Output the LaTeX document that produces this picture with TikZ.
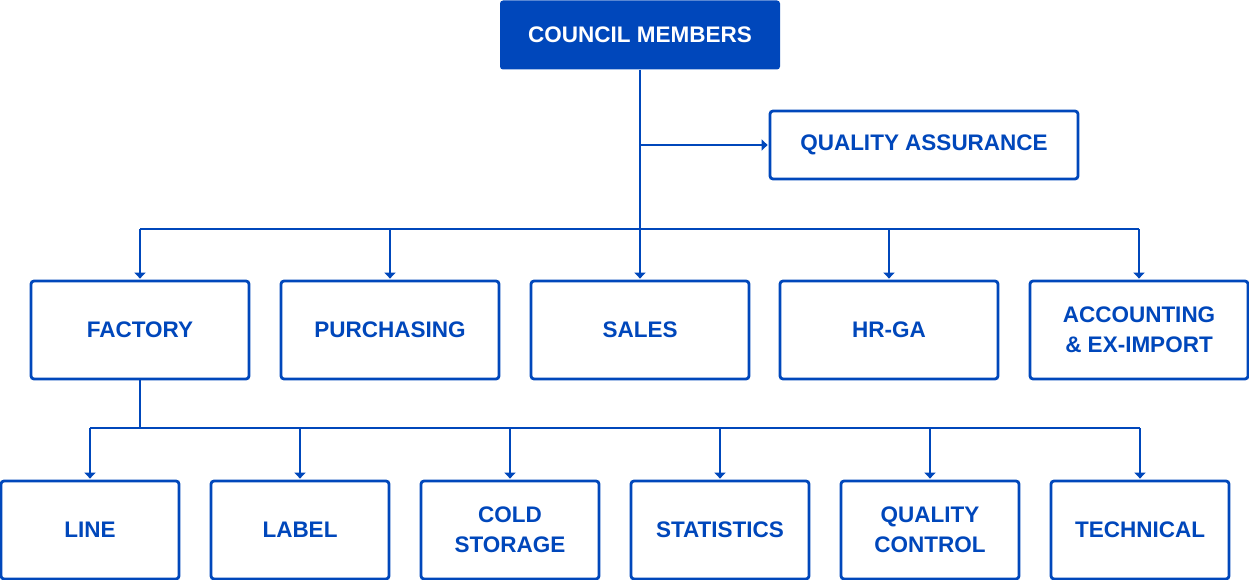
\documentclass[tikz,border=0pt]{standalone}
\usepackage{fontspec}
\setmainfont{Liberation Sans}
\usetikzlibrary{arrows.meta}
\definecolor{cblue}{HTML}{0047BB}
\begin{document}
\begin{tikzpicture}[x=1pt,y=-1pt,
  box/.style={draw=cblue,line width=2.8pt,rounded corners=3pt,fill=white,text=cblue,font=\bfseries\fontsize{22.5}{30}\selectfont,align=center,inner sep=0pt},
  topbox/.style={fill=cblue,rounded corners=3pt,text=white,font=\bfseries\fontsize{22.5}{30}\selectfont,inner sep=0pt},
  conn/.style={draw=cblue,line width=2.8pt},
  arr/.style={conn,-{Triangle[width=11pt,length=6pt]},shorten >=1pt}]
\useasboundingbox (0,0) rectangle (1249,580);
% boxes
\node[topbox,minimum width=280pt,minimum height=69pt] (cm) at (640,35) {COUNCIL MEMBERS};
\node[box,minimum width=308pt,minimum height=68pt] (qa) at (924,145) {QUALITY ASSURANCE};
\foreach \n/\x/\t in {fa/140/FACTORY,pu/390/PURCHASING,sa/640/SALES,hr/889/HR-GA,ac/1139/{ACCOUNTING\\\& EX-IMPORT}}
  \node[box,minimum width=218pt,minimum height=98pt] (\n) at (\x,330) {\t};
\foreach \n/\x/\t in {li/90/LINE,la/300/LABEL,co/510/{COLD\\STORAGE},st/720/STATISTICS,qc/930/{QUALITY\\CONTROL},te/1140/TECHNICAL}
  \node[box,minimum width=178pt,minimum height=98pt] (\n) at (\x,530) {\t};
% connectors
\coordinate (j1) at (640,229);
\coordinate (j2) at (140,428);
\coordinate (jq) at (640,145);
\draw[conn] (cm.south) -- (j1);
\draw[arr] (jq) -- (qa.west);
\draw[conn] (fa.north |- j1) -- (ac.north |- j1);
\foreach \n in {fa,pu,sa,hr,ac} \draw[arr] (\n.north |- j1) -- (\n.north);
\draw[conn] (fa.south) -- (j2);
\draw[conn] (li.north |- j2) -- (te.north |- j2);
\foreach \n in {li,la,co,st,qc,te} \draw[arr] (\n.north |- j2) -- (\n.north);
\end{tikzpicture}
\end{document}
